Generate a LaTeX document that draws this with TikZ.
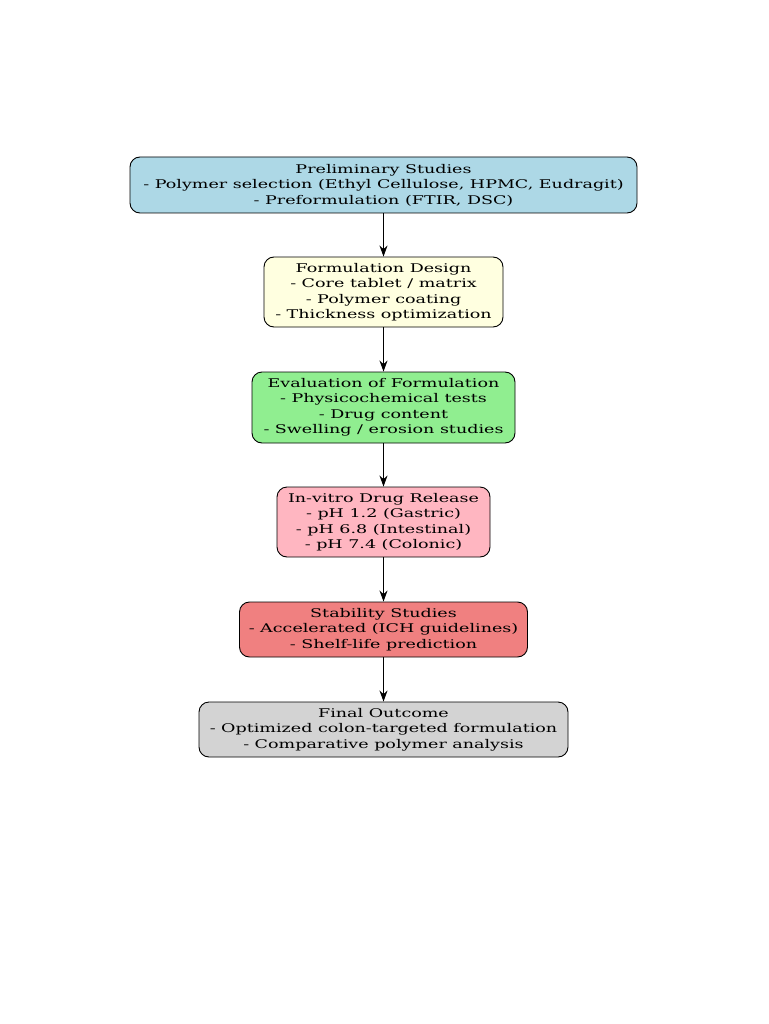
\documentclass[tikz,border=0pt]{standalone}
\usepackage{fontspec}
\setmainfont[FakeStretch=1.46]{DejaVu Serif}
\usetikzlibrary{arrows.meta}
\definecolor{cblue}{RGB}{173,216,230}
\definecolor{cyellow}{RGB}{255,255,224}
\definecolor{cgreen}{RGB}{144,238,144}
\definecolor{cpink}{RGB}{255,182,193}
\definecolor{ccoral}{RGB}{240,128,128}
\definecolor{cgray}{RGB}{211,211,211}
\begin{document}
\begin{tikzpicture}[x=1pt,y=-1pt,
  box/.style={draw=black,line width=0.9pt,rounded corners=10pt,align=center,
    font=\fontsize{12}{15.5}\selectfont,inner sep=0pt},
  arr/.style={-{Stealth[length=11pt,width=8pt]},line width=1pt}]
\useasboundingbox (0,0) rectangle (768,1024);
\node[box,fill=cblue,minimum width=507pt,minimum height=56pt] (a) at (383.5,185) {Preliminary Studies\\- Polymer selection (Ethyl Cellulose, HPMC, Eudragit)\\- Preformulation (FTIR, DSC)};
\node[box,fill=cyellow,minimum width=239pt,minimum height=70pt] (b) at (383.5,292) {Formulation Design\\- Core tablet / matrix\\- Polymer coating\\- Thickness optimization};
\node[box,fill=cgreen,minimum width=263pt,minimum height=71pt] (c) at (383.5,407.5) {Evaluation of Formulation\\- Physicochemical tests\\- Drug content\\- Swelling / erosion studies};
\node[box,fill=cpink,minimum width=213pt,minimum height=70pt] (d) at (383.5,522) {In-vitro Drug Release\\- pH 1.2 (Gastric)\\- pH 6.8 (Intestinal)\\- pH 7.4 (Colonic)};
\node[box,fill=ccoral,minimum width=288pt,minimum height=55pt] (e) at (383.5,629.5) {Stability Studies\\- Accelerated (ICH guidelines)\\- Shelf-life prediction};
\node[box,fill=cgray,minimum width=369pt,minimum height=55pt] (f) at (383.5,729.5) {Final Outcome\\- Optimized colon-targeted formulation\\- Comparative polymer analysis};
\draw[arr] (a) -- (b);
\draw[arr] (b) -- (c);
\draw[arr] (c) -- (d);
\draw[arr] (d) -- (e);
\draw[arr] (e) -- (f);
\end{tikzpicture}
\end{document}
